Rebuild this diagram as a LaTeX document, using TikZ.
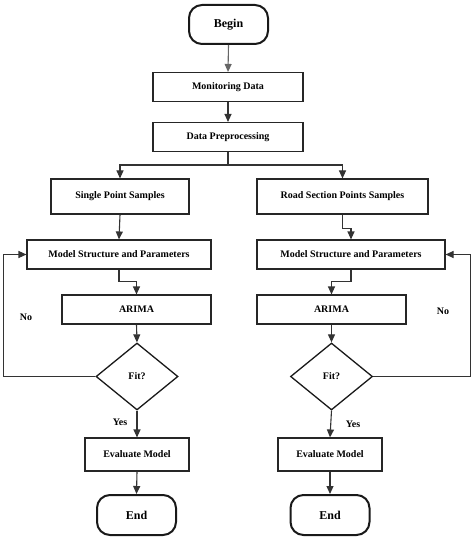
\documentclass[tikz,border=0pt]{standalone}
\usepackage{fontspec}
\setmainfont{Liberation Serif}
\usetikzlibrary{shapes.geometric,arrows.meta,calc}
\begin{document}
\begin{tikzpicture}[x=1pt,y=-1pt,
  box/.style={draw=black!85, line width=1.1pt, minimum height=29pt, inner sep=0pt, font=\bfseries\fontsize{10}{12}\selectfont},
  term/.style={draw=black!90, line width=2pt, rounded corners=13pt, minimum width=79pt, minimum height=39pt, inner sep=0pt, font=\bfseries\fontsize{12}{14}\selectfont},
  dec/.style={draw=black!90, line width=1.3pt, diamond, minimum width=82pt, minimum height=67pt, inner sep=0pt, font=\bfseries\fontsize{10}{12}\selectfont},
  arr/.style={draw=black!80, line width=1.1pt, -{Triangle[length=8pt,width=7pt]}},
  lab/.style={font=\bfseries\fontsize{10}{12}\selectfont, inner sep=0pt}]
\useasboundingbox (0,0) rectangle (474,540);
% nodes
\node[term] (begin) at (228.5,24.5) {Begin};
\node[box, minimum width=150pt] (md) at (228,87) {Monitoring Data};
\node[box, minimum width=150pt] (dp) at (228,137) {Data Preprocessing};
\node[box, minimum width=138pt, minimum height=35pt] (sps) at (120,196.5) {Single Point Samples};
\node[box, minimum width=171pt, minimum height=35pt] (rsp) at (342.5,196.5) {Road Section Points Samples};
\node[box, minimum width=184pt] (msL) at (119,254.5) {Model Structure and Parameters};
\node[box, minimum width=188pt] (msR) at (351,254.5) {Model Structure and Parameters};
\node[box, minimum width=149pt] (arL) at (136.5,309.5) {ARIMA};
\node[box, minimum width=149pt] (arR) at (331.5,309.5) {ARIMA};
\node[dec] (fitL) at (137,376.5) {Fit?};
\node[dec] (fitR) at (331.5,376.5) {Fit?};
\node[box, minimum width=104pt, minimum height=33pt] (evL) at (137,454.5) {Evaluate Model};
\node[box, minimum width=104pt, minimum height=33pt] (evR) at (330,454.5) {Evaluate Model};
\node[term, minimum height=40pt] (endL) at (136.5,515) {End};
\node[term, minimum height=40pt] (endR) at (330,515) {End};
\coordinate (split) at (228,165);
% connectors
\draw[arr, draw=black!60] (begin.south) -- (md.north);
\draw[arr] (md.south) -- (dp.north);
\draw[line width=1.1pt, draw=black!80] (dp.south) -- (split);
\draw[arr] (split) -| (sps.north);
\draw[arr] (split) -| (rsp.north);
\draw[arr] (sps.south) -- (msL.north);
\draw[arr] (rsp.south) -- ++(0,14) -| (msR.north);
\draw[arr] (msL.south) -- ++(0,12) -| (arL.north);
\draw[arr] (msR.south) -- ++(0,12) -| (arR.north);
\draw[arr] (arL.south) -- (fitL.north);
\draw[arr] (arR.south) -- (fitR.north);
\draw[arr] (fitL.west) -- ++(-92,0) |- (msL.west);
\draw[arr] (fitR.east) -- ++(97,0) |- (msR.east);
\draw[arr] (fitL.south) -- (evL.north);
\draw[arr] (fitR.south) -- (evR.north);
\draw[arr] (evL.south) -- (endL.north);
\draw[arr] (evR.south) -- (endR.north);
% labels
\node[lab] (noL) at (26,317) {No};
\node[lab] (noR) at (443,311) {No};
\node[lab] (yesL) at (120,422) {Yes};
\node[lab] (yesR) at (353,424) {Yes};
\end{tikzpicture}
\end{document}
